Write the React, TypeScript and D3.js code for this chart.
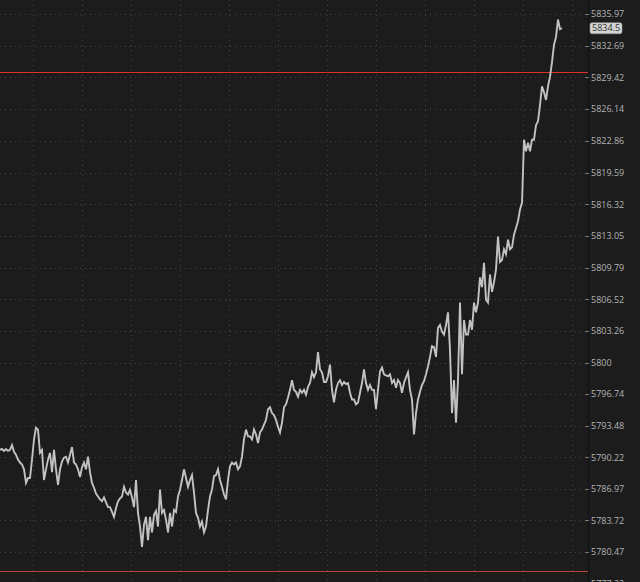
import * as d3 from 'd3';
import React, { useEffect, useRef } from 'react';

// precio de cada tick (uno cada ~2px de la captura)
const prices: number[] = [
  5791.0, 5791.1, 5790.9, 5791.1, 5790.9, 5791.0, 5791.5, 5790.8, 5790.5, 5790.0,
  5789.7, 5789.5, 5789.0, 5787.6, 5788.1, 5788.1, 5790.0, 5792.1, 5793.3, 5793.1,
  5790.7, 5791.0, 5787.9, 5789.0, 5790.0, 5790.7, 5788.7, 5791.0, 5789.0, 5787.4,
  5789.0, 5789.8, 5790.2, 5790.3, 5789.7, 5790.5, 5791.3, 5789.7, 5789.5, 5789.0,
  5788.2, 5789.2, 5789.7, 5789.0, 5790.3, 5788.7, 5787.6, 5787.1, 5786.5, 5786.2,
  5785.9, 5785.7, 5786.1, 5785.6, 5785.1, 5785.1, 5784.6, 5784.1, 5785.0, 5785.7,
  5786.0, 5786.2, 5787.2, 5786.6, 5786.4, 5786.9, 5786.1, 5785.1, 5787.9, 5784.5,
  5783.1, 5781.0, 5783.3, 5784.1, 5781.7, 5784.1, 5782.5, 5784.3, 5784.7, 5783.1,
  5786.9, 5784.5, 5784.8, 5783.8, 5782.5, 5784.5, 5783.1, 5784.8, 5784.6, 5786.2,
  5786.9, 5787.9, 5789.0, 5788.1, 5787.2, 5787.9, 5788.4, 5786.6, 5784.5, 5784.0,
  5783.1, 5783.6, 5782.5, 5783.1, 5784.8, 5786.2, 5786.9, 5788.3, 5788.4, 5789.0,
  5787.9, 5787.2, 5786.4, 5785.9, 5787.9, 5789.3, 5789.7, 5789.5, 5789.7, 5789.0,
  5789.3, 5790.3, 5792.1, 5793.1, 5792.4, 5792.4, 5792.1, 5793.1, 5792.6, 5791.7,
  5792.8, 5793.1, 5793.6, 5794.1, 5795.2, 5795.4, 5794.8, 5794.6, 5794.1, 5793.4,
  5792.8, 5793.8, 5795.4, 5795.7, 5796.4, 5797.2, 5798.2, 5797.2, 5797.0, 5796.5,
  5797.2, 5796.9, 5797.2, 5796.7, 5797.5, 5797.9, 5799.0, 5798.5, 5799.0, 5801.1,
  5799.3, 5799.0, 5798.0, 5798.0, 5798.6, 5799.8, 5797.2, 5795.9, 5797.2, 5797.9,
  5798.2, 5797.7, 5798.0, 5797.8, 5797.9, 5796.9, 5796.2, 5796.2, 5795.7, 5795.9,
  5796.9, 5797.9, 5799.3, 5797.9, 5797.2, 5797.7, 5797.2, 5797.2, 5795.2, 5797.2,
  5799.1, 5799.5, 5798.8, 5798.7, 5798.6, 5798.8, 5797.9, 5798.2, 5797.4, 5798.2,
  5797.9, 5796.9, 5797.9, 5798.5, 5799.0, 5797.2, 5796.2, 5792.6, 5794.8, 5796.2,
  5797.0, 5797.7, 5798.1, 5798.8, 5799.6, 5800.6, 5801.7, 5801.6, 5800.6, 5803.6,
  5803.9, 5803.2, 5802.9, 5803.9, 5805.2, 5801.3, 5794.8, 5798.2, 5793.8, 5798.2,
  5806.2, 5798.8, 5804.4, 5802.9, 5802.9, 5804.4, 5803.4, 5806.2, 5805.2, 5806.2,
  5808.8, 5807.8, 5810.3, 5806.5, 5806.2, 5809.1, 5807.3, 5808.3, 5809.6, 5813.0,
  5810.4, 5810.6, 5811.7, 5811.2, 5812.7, 5811.7, 5811.9, 5813.2, 5813.9, 5814.6,
  5815.8, 5816.5, 5823.0, 5821.8, 5822.7, 5821.8, 5823.0, 5823.0, 5824.5, 5824.9,
  5826.6, 5828.5, 5827.9, 5827.1, 5828.5, 5829.5, 5831.0, 5832.8, 5833.6, 5835.4,
  5834.4, 5834.5,
];

// etiquetas del eje de precios
const tickLabels: string[] = [
  '5835.97', '5832.69', '5829.42', '5826.14', '5822.86', '5819.59', '5816.32',
  '5813.05', '5809.79', '5806.52', '5803.26', '5800', '5796.74', '5793.48',
  '5790.22', '5786.97', '5783.72', '5780.47', '5777.22',
];

// lineas horizontales (alerta arriba, soporte abajo)
const levelPrices: number[] = [5830.0, 5778.5];
const levelColors: string[] = ['#e0302c', '#b8453c'];

const lastPrice = 5834.5;

const App: React.FC = () => {
  const ref = useRef<SVGSVGElement | null>(null);

  useEffect(() => {
    if (!ref.current) return;
    const svg = d3.select(ref.current);
    svg.selectAll('*').remove();

    const W = 640;
    const H = 582;
    const plotRight = 588;
    const font = '"Open Sans", "Noto Sans", sans-serif';

    svg.append('rect').attr('width', W).attr('height', H).attr('fill', '#1c1c1c');

    const x = d3
      .scaleLinear()
      .domain([0, prices.length - 1])
      .range([0, 562]);
    const y = d3.scaleLinear().domain([5780.47, 5835.97]).range([552, 14]);

    // rejilla punteada
    const grid = svg.append('g');
    tickLabels.forEach((t) => {
      const yy = Math.round(y(+t)) + 0.5;
      grid
        .append('line')
        .attr('x1', 0)
        .attr('x2', plotRight)
        .attr('y1', yy)
        .attr('y2', yy)
        .attr('stroke', '#444')
        .attr('stroke-dasharray', '1,4');
    });
    d3.range(33, plotRight, 49).forEach((gx) => {
      grid
        .append('line')
        .attr('x1', gx + 0.5)
        .attr('x2', gx + 0.5)
        .attr('y1', 0)
        .attr('y2', H)
        .attr('stroke', '#444')
        .attr('stroke-dasharray', '1,4');
    });

    // niveles
    levelPrices.forEach((p, i) => {
      const yy = Math.round(y(p)) + 0.5;
      svg
        .append('line')
        .attr('x1', 0)
        .attr('x2', plotRight)
        .attr('y1', yy)
        .attr('y2', yy)
        .attr('stroke', levelColors[i])
        .attr('stroke-width', 1.2);
    });

    // serie de precios
    const line = d3
      .line<number>()
      .x((_, i) => x(i))
      .y((d) => y(d));

    svg
      .append('path')
      .datum(prices)
      .attr('fill', 'none')
      .attr('stroke', '#c2c2c2')
      .attr('stroke-width', 1.9)
      .attr('stroke-linejoin', 'miter')
      .attr('d', line);

    // eje derecho
    svg
      .append('line')
      .attr('x1', plotRight + 0.5)
      .attr('x2', plotRight + 0.5)
      .attr('y1', 0)
      .attr('y2', H)
      .attr('stroke', '#111');

    const axis = svg.append('g');
    tickLabels.forEach((t) => {
      const yy = y(+t);
      axis
        .append('line')
        .attr('x1', plotRight - 3)
        .attr('x2', plotRight + 1)
        .attr('y1', Math.round(yy) + 0.5)
        .attr('y2', Math.round(yy) + 0.5)
        .attr('stroke', '#777');
      axis
        .append('text')
        .attr('x', plotRight + 3)
        .attr('y', yy)
        .attr('dy', '0.35em')
        .attr('fill', '#b4b4b4')
        .style('font-family', font)
        .style('font-size', '9px')
        .text(t);
    });

    // etiqueta del ultimo precio
    const ly = y(lastPrice);
    svg
      .append('rect')
      .attr('x', plotRight + 2)
      .attr('y', ly - 5.5)
      .attr('width', 32)
      .attr('height', 11)
      .attr('rx', 2)
      .attr('fill', '#d4d4d4')
      .attr('stroke', '#9a9a9a')
      .attr('stroke-width', 0.6);
    svg
      .append('text')
      .attr('x', plotRight + 4)
      .attr('y', ly)
      .attr('dy', '0.35em')
      .attr('fill', '#303030')
      .style('font-family', font)
      .style('font-size', '9px')
      .text(lastPrice.toFixed(1));
  }, []);

  return (
    <svg
      ref={ref}
      width={640}
      height={582}
      style={{ position: 'absolute', left: 0, top: 0, display: 'block' }}
    />
  );
};

export default App;
